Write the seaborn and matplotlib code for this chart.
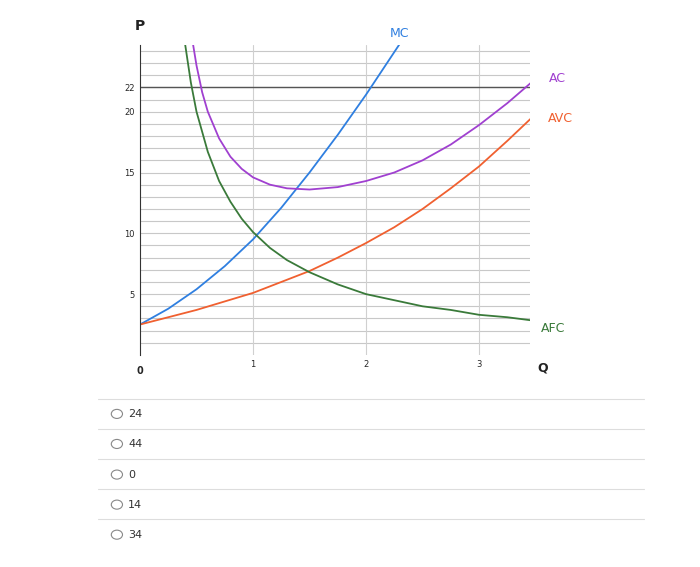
import matplotlib
matplotlib.use("Agg")
import matplotlib.pyplot as plt
import seaborn as sns
import numpy as np

sns.set_style("white")
plt.rcParams['font.family'] = ['DejaVu Sans']

q_mc = [0, 0.25, 0.5, 0.75, 1, 1.25, 1.5, 1.75, 2, 2.1, 2.2, 2.3]
mc = [2.5, 3.8, 5.4, 7.3, 9.5, 12.1, 15.0, 18.1, 21.4, 22.8, 24.2, 25.6]
q_avc = [0, 0.25, 0.5, 0.75, 1, 1.25, 1.5, 1.75, 2, 2.25, 2.5, 2.75, 3, 3.25, 3.5]
avc = [2.5, 3.1, 3.7, 4.4, 5.1, 6.0, 6.9, 8.0, 9.2, 10.5, 12.0, 13.7, 15.5, 17.6, 19.8]
q_afc = [0.4, 0.45, 0.5, 0.6, 0.7, 0.8, 0.9, 1, 1.15, 1.3, 1.5, 1.75, 2, 2.25, 2.5, 2.75, 3, 3.25, 3.5]
afc = [25.5, 22.4, 20.0, 16.7, 14.3, 12.6, 11.2, 10.1, 8.8, 7.8, 6.8, 5.8, 5.0, 4.5, 4.0, 3.7, 3.3, 3.1, 2.8]
q_ac = [0.47, 0.5, 0.55, 0.6, 0.7, 0.8, 0.9, 1, 1.15, 1.3, 1.5, 1.75, 2, 2.25, 2.5, 2.75, 3, 3.25, 3.5]
ac = [25.5, 23.8, 21.6, 20.0, 17.8, 16.3, 15.3, 14.6, 14.0, 13.7, 13.6, 13.8, 14.3, 15.0, 16.0, 17.3, 18.9, 20.7, 22.7]
y_ticks = [5, 10, 15, 20, 22]
x_ticks = [1, 2, 3]
options = ["24", "44", "0", "14", "34"]

fig = plt.figure(figsize=(7, 5.67), dpi=100)
ax = fig.add_axes([0.2, 0.374, 0.557, 0.547])
ax.set_xlim(0, 3.45)
ax.set_ylim(0, 25.5)
for y in np.arange(1, 25.5, 1):
    ax.axhline(y, color="#c8c8c8", lw=0.8, zorder=0)
for x in x_ticks:
    ax.axvline(x, color="#d0d0d0", lw=0.8, zorder=0)
ax.axhline(22, color="#555555", lw=1.0, zorder=1)

sns.lineplot(x=q_mc, y=mc, ax=ax, color="#2f7fe0", lw=1.3)
sns.lineplot(x=q_avc, y=avc, ax=ax, color="#f06030", lw=1.3)
sns.lineplot(x=q_afc, y=afc, ax=ax, color="#3a7a3a", lw=1.3)
sns.lineplot(x=q_ac, y=ac, ax=ax, color="#a040d0", lw=1.3)

ax.set_xticks(x_ticks)
ax.set_xticklabels([str(t) for t in x_ticks], fontsize=6)
ax.set_yticks(y_ticks)
ax.set_yticklabels([str(t) for t in y_ticks], fontsize=6)
ax.tick_params(length=3, pad=1)
for s in ["top", "right", "bottom"]:
    ax.spines[s].set_visible(False)
ax.spines["left"].set_color("#333333")
ax.text(0, -1.3, "0", fontsize=7, ha="center", va="center", fontweight="bold")

fig.text(0.571, 0.935, "MC", color="#2f7fe0", fontsize=9, ha="center")
fig.text(0.797, 0.855, "AC", color="#a040d0", fontsize=9, ha="center")
fig.text(0.800, 0.785, "AVC", color="#f06030", fontsize=9, ha="center")
fig.text(0.790, 0.415, "AFC", color="#3a7a3a", fontsize=9, ha="center")
fig.text(0.775, 0.345, "Q", color="#222222", fontsize=9, ha="center", fontweight="bold")
fig.text(0.2, 0.947, "P", color="#222222", fontsize=10, ha="center", fontweight="bold")

ys = [0.270, 0.217, 0.163, 0.110, 0.057]
for lab, yy in zip(options, ys):
    fig.patches.append(plt.Circle((0.167, yy), 0.008, transform=fig.transFigure,
                                  fill=False, ec="#888888", lw=0.8))
    fig.text(0.183, yy, lab, fontsize=8, va="center", color="#333333")
    fig.add_artist(plt.Line2D([0.14, 0.92], [yy + 0.027, yy + 0.027],
                              color="#dddddd", lw=0.8))

fig.savefig("out.png", dpi=100)
